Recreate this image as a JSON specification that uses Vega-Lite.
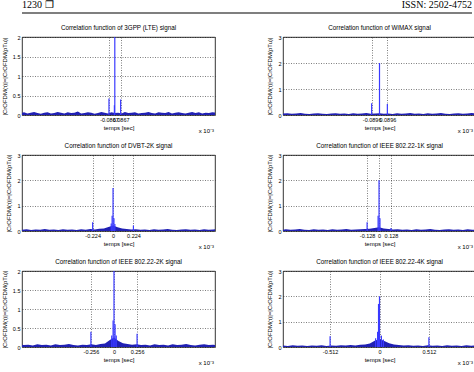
{
"$schema": "https://vega.github.io/schema/vega-lite/v6.json",
"padding": 0,
"background": "#ffffff",
"datasets": {
"noise": [
{"x":-1.40,"a":0.05,"b":0.06,"c":0.05,"d":0.06,"e":0.05,"f":0.04},
{"x":-1.35,"a":0.07,"b":0.04,"c":0.07,"d":0.05,"e":0.08,"f":0.06},
{"x":-1.30,"a":0.04,"b":0.07,"c":0.04,"d":0.08,"e":0.04,"f":0.07},
{"x":-1.25,"a":0.06,"b":0.05,"c":0.06,"d":0.04,"e":0.06,"f":0.05},
{"x":-1.20,"a":0.08,"b":0.08,"c":0.05,"d":0.07,"e":0.07,"f":0.06},
{"x":-1.15,"a":0.05,"b":0.04,"c":0.08,"d":0.05,"e":0.05,"f":0.04},
{"x":-1.10,"a":0.03,"b":0.06,"c":0.04,"d":0.06,"e":0.04,"f":0.07},
{"x":-1.05,"a":0.06,"b":0.07,"c":0.06,"d":0.04,"e":0.07,"f":0.05},
{"x":-1.00,"a":0.07,"b":0.05,"c":0.05,"d":0.07,"e":0.05,"f":0.06},
{"x":-0.95,"a":0.04,"b":0.06,"c":0.07,"d":0.05,"e":0.06,"f":0.04},
{"x":-0.90,"a":0.05,"b":0.08,"c":0.04,"d":0.06,"e":0.04,"f":0.07},
{"x":-0.85,"a":0.08,"b":0.05,"c":0.06,"d":0.08,"e":0.07,"f":0.05},
{"x":-0.80,"a":0.06,"b":0.04,"c":0.05,"d":0.05,"e":0.05,"f":0.06},
{"x":-0.75,"a":0.04,"b":0.06,"c":0.08,"d":0.04,"e":0.06,"f":0.04},
{"x":-0.70,"a":0.07,"b":0.07,"c":0.05,"d":0.07,"e":0.04,"f":0.06},
{"x":-0.65,"a":0.05,"b":0.05,"c":0.06,"d":0.05,"e":0.07,"f":0.05},
{"x":-0.60,"a":0.06,"b":0.04,"c":0.04,"d":0.06,"e":0.05,"f":0.07},
{"x":-0.55,"a":0.09,"b":0.06,"c":0.07,"d":0.04,"e":0.06,"f":0.04},
{"x":-0.50,"a":0.04,"b":0.07,"c":0.05,"d":0.07,"e":0.08,"f":0.06},
{"x":-0.45,"a":0.05,"b":0.05,"c":0.06,"d":0.05,"e":0.05,"f":0.05},
{"x":-0.40,"a":0.07,"b":0.06,"c":0.04,"d":0.06,"e":0.04,"f":0.07},
{"x":-0.35,"a":0.06,"b":0.04,"c":0.07,"d":0.08,"e":0.06,"f":0.06},
{"x":-0.30,"a":0.03,"b":0.07,"c":0.05,"d":0.05,"e":0.05,"f":0.08},
{"x":-0.25,"a":0.05,"b":0.05,"c":0.08,"d":0.06,"e":0.07,"f":0.06},
{"x":-0.20,"a":0.08,"b":0.06,"c":0.06,"d":0.07,"e":0.05,"f":0.09},
{"x":-0.15,"a":0.06,"b":0.08,"c":0.09,"d":0.08,"e":0.08,"f":0.10},
{"x":-0.10,"a":0.04,"b":0.05,"c":0.10,"d":0.09,"e":0.09,"f":0.14},
{"x":-0.05,"a":0.07,"b":0.06,"c":0.16,"d":0.12,"e":0.18,"f":0.25},
{"x":0.00,"a":0.05,"b":0.07,"c":0.22,"d":0.15,"e":0.25,"f":0.32},
{"x":0.05,"a":0.06,"b":0.05,"c":0.15,"d":0.10,"e":0.16,"f":0.24},
{"x":0.10,"a":0.04,"b":0.06,"c":0.10,"d":0.08,"e":0.10,"f":0.15},
{"x":0.15,"a":0.08,"b":0.04,"c":0.08,"d":0.06,"e":0.08,"f":0.10},
{"x":0.20,"a":0.05,"b":0.07,"c":0.06,"d":0.07,"e":0.06,"f":0.08},
{"x":0.25,"a":0.06,"b":0.05,"c":0.07,"d":0.05,"e":0.07,"f":0.06},
{"x":0.30,"a":0.07,"b":0.06,"c":0.05,"d":0.06,"e":0.05,"f":0.07},
{"x":0.35,"a":0.04,"b":0.08,"c":0.06,"d":0.04,"e":0.06,"f":0.05},
{"x":0.40,"a":0.05,"b":0.05,"c":0.04,"d":0.07,"e":0.04,"f":0.06},
{"x":0.45,"a":0.06,"b":0.06,"c":0.07,"d":0.05,"e":0.07,"f":0.04},
{"x":0.50,"a":0.08,"b":0.04,"c":0.05,"d":0.06,"e":0.05,"f":0.07},
{"x":0.55,"a":0.05,"b":0.07,"c":0.06,"d":0.08,"e":0.06,"f":0.05},
{"x":0.60,"a":0.04,"b":0.05,"c":0.08,"d":0.05,"e":0.04,"f":0.06},
{"x":0.65,"a":0.07,"b":0.06,"c":0.05,"d":0.04,"e":0.07,"f":0.04},
{"x":0.70,"a":0.06,"b":0.08,"c":0.04,"d":0.06,"e":0.05,"f":0.07},
{"x":0.75,"a":0.05,"b":0.05,"c":0.06,"d":0.07,"e":0.06,"f":0.05},
{"x":0.80,"a":0.08,"b":0.04,"c":0.07,"d":0.05,"e":0.08,"f":0.06},
{"x":0.85,"a":0.04,"b":0.06,"c":0.05,"d":0.06,"e":0.05,"f":0.04},
{"x":0.90,"a":0.06,"b":0.07,"c":0.06,"d":0.04,"e":0.04,"f":0.07},
{"x":0.95,"a":0.07,"b":0.05,"c":0.04,"d":0.07,"e":0.06,"f":0.05},
{"x":1.00,"a":0.05,"b":0.06,"c":0.07,"d":0.05,"e":0.07,"f":0.06},
{"x":1.05,"a":0.04,"b":0.08,"c":0.05,"d":0.06,"e":0.05,"f":0.04},
{"x":1.10,"a":0.06,"b":0.05,"c":0.06,"d":0.08,"e":0.06,"f":0.06},
{"x":1.15,"a":0.08,"b":0.06,"c":0.08,"d":0.05,"e":0.04,"f":0.05},
{"x":1.20,"a":0.05,"b":0.04,"c":0.05,"d":0.06,"e":0.07,"f":0.07},
{"x":1.25,"a":0.07,"b":0.07,"c":0.06,"d":0.04,"e":0.05,"f":0.04},
{"x":1.30,"a":0.04,"b":0.05,"c":0.04,"d":0.07,"e":0.06,"f":0.06},
{"x":1.35,"a":0.06,"b":0.06,"c":0.07,"d":0.05,"e":0.04,"f":0.05},
{"x":1.40,"a":0.05,"b":0.04,"c":0.05,"d":0.06,"e":0.07,"f":0.07},
{"x":1.45,"a":0.07,"b":0.07,"c":0.06,"d":0.04,"e":0.05,"f":0.04},
{"x":1.50,"a":0.06,"b":0.05,"c":0.04,"d":0.07,"e":0.06,"f":0.06}
],
"spikes": [
{"p":1,"x":0,"v":2.0},{"p":1,"x":-0.0867,"v":0.42},{"p":1,"x":0.0867,"v":0.4},{"p":1,"x":-0.006,"v":0.25},
{"p":2,"x":0,"v":2.0},{"p":2,"x":-0.0896,"v":0.45},{"p":2,"x":0.0896,"v":0.42},
{"p":3,"x":0,"v":1.7},{"p":3,"x":-0.224,"v":0.35},{"p":3,"x":0.224,"v":0.22},{"p":3,"x":-0.01,"v":0.6},{"p":3,"x":0.01,"v":0.5},{"p":3,"x":-0.02,"v":0.3},{"p":3,"x":0.02,"v":0.28},
{"p":4,"x":0,"v":2.0},{"p":4,"x":-0.128,"v":0.35},{"p":4,"x":0.128,"v":0.12},{"p":4,"x":-0.01,"v":0.6},{"p":4,"x":0.01,"v":0.5},
{"p":5,"x":0,"v":2.0},{"p":5,"x":-0.256,"v":0.4},{"p":5,"x":0.256,"v":0.35},{"p":5,"x":-0.01,"v":0.7},{"p":5,"x":0.012,"v":0.6},{"p":5,"x":-0.025,"v":0.3},{"p":5,"x":0.025,"v":0.3},
{"p":6,"x":0,"v":2.0},{"p":6,"x":-0.512,"v":0.42},{"p":6,"x":0.512,"v":0.38},{"p":6,"x":-0.01,"v":1.7},{"p":6,"x":-0.02,"v":0.6},{"p":6,"x":0.02,"v":0.45},{"p":6,"x":-0.04,"v":0.35},{"p":6,"x":0.04,"v":0.3}
]
},
"vconcat": [
{
"width": 450, "height": 17,
"layer": [
{"data": {"values": [{"px": 0, "py": 1, "t": "1230   ❐"}]},
 "mark": {"type": "text", "align": "left", "baseline": "top", "font": "Liberation Serif", "fontSize": 10},
 "encoding": {"text": {"field": "t"}, "x": {"field": "px", "type": "quantitative", "scale": {"domain": [0, 1], "nice": false}, "axis": null}, "y": {"field": "py", "type": "quantitative", "scale": {"domain": [0, 1], "nice": false}, "axis": null}}},
{"data": {"values": [{"px": 1, "py": 1, "t": "ISSN: 2502-4752"}]},
 "mark": {"type": "text", "align": "right", "baseline": "top", "font": "Liberation Serif", "fontSize": 10},
 "encoding": {"text": {"field": "t"}, "x": {"field": "px", "type": "quantitative", "axis": null}, "y": {"field": "py", "type": "quantitative", "axis": null}}},
{"data": {"values": [{"px": 0, "px2": 1, "py": 0.235}]},
 "mark": {"type": "rule", "color": "#000", "strokeWidth": 1.2},
 "encoding": {"x": {"field": "px", "type": "quantitative", "axis": null}, "x2": {"field": "px2"}, "y": {"field": "py", "type": "quantitative", "axis": null}}}
],
"view": {"stroke": null}
},
{
"hconcat": [
{
"width": 193, "height": 78,
"title": "Correlation function of 3GPP (LTE) signal",
"encoding": {
 "x": {"field": "x", "type": "quantitative", "scale": {"domain": [-1.38, 1.49], "nice": false, "zero": false}, "axis": {"values": [-0.0867, 0.0867], "title": "temps [sec]"}},
 "y": {"field": "v", "type": "quantitative", "scale": {"domain": [0, 2], "nice": false}, "axis": {"values": [0, 0.5, 1, 1.5, 2], "title": "|CrOFDM(τ)|=|CrOFDM(pTu)|"}}
},
"layer": [
{"data": {"name": "noise"}, "transform": [{"fold": ["a"], "as": ["k", "v"]}], "mark": {"type": "area", "color": "#2020b4", "clip": true}},
{"data": {"name": "spikes"}, "transform": [{"filter": "datum.p == 1"}], "mark": {"type": "rule", "color": "#3a3aff", "strokeWidth": 1.2, "clip": true}, "encoding": {"y2": {"datum": 0}}},
{"data": {"values": [{"t": "x 10⁻³", "x": 1.49, "v": 0}]}, "mark": {"type": "text", "align": "right", "baseline": "top", "dy": 13, "dx": -1, "fontSize": 6}, "encoding": {"text": {"field": "t"}}}
]
},
{
"width": 193, "height": 78,
"title": "Correlation function of WiMAX signal",
"encoding": {
 "x": {"field": "x", "type": "quantitative", "scale": {"domain": [-1.1, 1.1], "nice": false, "zero": false}, "axis": {"values": [-0.0896, 0.0896], "title": "temps [sec]"}},
 "y": {"field": "v", "type": "quantitative", "scale": {"domain": [0, 3], "nice": false}, "axis": {"values": [0, 1, 2, 3], "title": "|CrOFDM(τ)|=|CrOFDM(pTu)|"}}
},
"layer": [
{"data": {"name": "noise"}, "transform": [{"fold": ["b"], "as": ["k", "v"]}], "mark": {"type": "area", "color": "#2020b4", "clip": true}},
{"data": {"name": "spikes"}, "transform": [{"filter": "datum.p == 2"}], "mark": {"type": "rule", "color": "#3a3aff", "strokeWidth": 1.2, "clip": true}, "encoding": {"y2": {"datum": 0}}},
{"data": {"values": [{"t": "x 10⁻³", "x": 1.1, "v": 0}]}, "mark": {"type": "text", "align": "right", "baseline": "top", "dy": 13, "dx": -3, "fontSize": 6}, "encoding": {"text": {"field": "t"}}}
]
}
]
},
{
"hconcat": [
{
"width": 193, "height": 76,
"title": "Correlation function of DVBT-2K signal",
"encoding": {
 "x": {"field": "x", "type": "quantitative", "scale": {"domain": [-1.0, 1.12], "nice": false, "zero": false}, "axis": {"values": [-0.224, 0, 0.224], "title": "temps [sec]"}},
 "y": {"field": "v", "type": "quantitative", "scale": {"domain": [0, 3], "nice": false}, "axis": {"values": [0, 1, 2, 3], "title": "|CrOFDM(τ)|=|CrOFDM(pTu)|"}}
},
"layer": [
{"data": {"name": "noise"}, "transform": [{"fold": ["c"], "as": ["k", "v"]}], "mark": {"type": "area", "color": "#2020b4", "clip": true}},
{"data": {"name": "spikes"}, "transform": [{"filter": "datum.p == 3"}], "mark": {"type": "rule", "color": "#3a3aff", "strokeWidth": 1.2, "clip": true}, "encoding": {"y2": {"datum": 0}}},
{"data": {"values": [{"t": "x 10⁻³", "x": 1.12, "v": 0}]}, "mark": {"type": "text", "align": "right", "baseline": "top", "dy": 13, "dx": -1, "fontSize": 6}, "encoding": {"text": {"field": "t"}}}
]
},
{
"width": 193, "height": 76,
"title": "Correlation function of IEEE 802.22-1K signal",
"encoding": {
 "x": {"field": "x", "type": "quantitative", "scale": {"domain": [-1.03, 1.04], "nice": false, "zero": false}, "axis": {"values": [-0.128, 0, 0.128], "title": "temps [sec]"}},
 "y": {"field": "v", "type": "quantitative", "scale": {"domain": [0, 3], "nice": false}, "axis": {"values": [0, 1, 2, 3], "title": "|CrOFDM(τ)|=|CrOFDM(pTu)|"}}
},
"layer": [
{"data": {"name": "noise"}, "transform": [{"fold": ["d"], "as": ["k", "v"]}], "mark": {"type": "area", "color": "#2020b4", "clip": true}},
{"data": {"name": "spikes"}, "transform": [{"filter": "datum.p == 4"}], "mark": {"type": "rule", "color": "#3a3aff", "strokeWidth": 1.2, "clip": true}, "encoding": {"y2": {"datum": 0}}},
{"data": {"values": [{"t": "x 10⁻³", "x": 1.04, "v": 0}]}, "mark": {"type": "text", "align": "right", "baseline": "top", "dy": 13, "dx": -3, "fontSize": 6}, "encoding": {"text": {"field": "t"}}}
]
}
]
},
{
"hconcat": [
{
"width": 193, "height": 76,
"title": "Correlation function of IEEE 802.22-2K signal",
"encoding": {
 "x": {"field": "x", "type": "quantitative", "scale": {"domain": [-1.02, 1.12], "nice": false, "zero": false}, "axis": {"values": [-0.256, 0, 0.256], "title": "temps [sec]"}},
 "y": {"field": "v", "type": "quantitative", "scale": {"domain": [0, 2], "nice": false}, "axis": {"values": [0, 0.5, 1, 1.5, 2], "title": "|CrOFDM(τ)|=|CrOFDM(pTu)|"}}
},
"layer": [
{"data": {"name": "noise"}, "transform": [{"fold": ["e"], "as": ["k", "v"]}], "mark": {"type": "area", "color": "#2020b4", "clip": true}},
{"data": {"name": "spikes"}, "transform": [{"filter": "datum.p == 5"}], "mark": {"type": "rule", "color": "#3a3aff", "strokeWidth": 1.2, "clip": true}, "encoding": {"y2": {"datum": 0}}},
{"data": {"values": [{"t": "x 10⁻³", "x": 1.12, "v": 0}]}, "mark": {"type": "text", "align": "right", "baseline": "top", "dy": 13, "dx": -1, "fontSize": 6}, "encoding": {"text": {"field": "t"}}}
]
},
{
"width": 193, "height": 76,
"title": "Correlation function of IEEE 802.22-4K signal",
"encoding": {
 "x": {"field": "x", "type": "quantitative", "scale": {"domain": [-1.0, 1.0], "nice": false, "zero": false}, "axis": {"values": [-0.512, 0, 0.512], "title": "temps [sec]"}},
 "y": {"field": "v", "type": "quantitative", "scale": {"domain": [0, 3], "nice": false}, "axis": {"values": [0, 1, 2, 3], "title": "|CrOFDM(τ)|=|CrOFDM(pTu)|"}}
},
"layer": [
{"data": {"name": "noise"}, "transform": [{"fold": ["f"], "as": ["k", "v"]}], "mark": {"type": "area", "color": "#2020b4", "clip": true}},
{"data": {"name": "spikes"}, "transform": [{"filter": "datum.p == 6"}], "mark": {"type": "rule", "color": "#3a3aff", "strokeWidth": 1.2, "clip": true}, "encoding": {"y2": {"datum": 0}}},
{"data": {"values": [{"t": "x 10⁻³", "x": 1.0, "v": 0}]}, "mark": {"type": "text", "align": "right", "baseline": "top", "dy": 13, "dx": -3, "fontSize": 6}, "encoding": {"text": {"field": "t"}}}
]
}
]
}
],
"spacing": 7,
"config": {
"font": "Liberation Sans",
"view": {"stroke": "#000", "strokeWidth": 0.8},
"concat": {"spacing": 50},
"axis": {"grid": true, "gridDash": [1, 1.5], "gridColor": "#000", "gridOpacity": 0.85, "gridWidth": 0.6, "ticks": false, "domain": false, "labelFontSize": 5.5, "labelColor": "#000", "titleFontSize": 6, "titleColor": "#000", "titleFontWeight": "normal", "labelPadding": 2, "titlePadding": 2, "labelExpr": "toString(datum.value)", "labelFlush": false, "labelOverlap": false},
"axisY": {"titlePadding": 5},
"title": {"fontSize": 6.3, "fontWeight": "normal", "color": "#000", "offset": 4}
}
}
